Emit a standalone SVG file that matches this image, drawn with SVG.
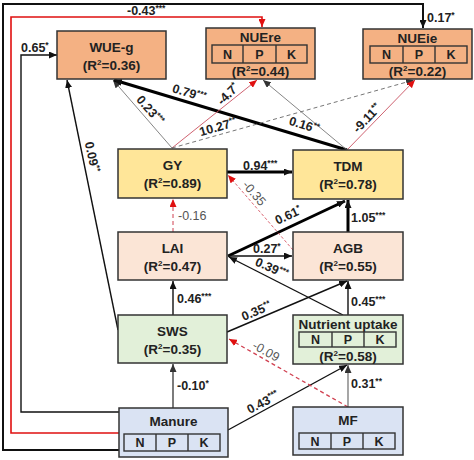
<svg xmlns="http://www.w3.org/2000/svg" width="474" height="460" viewBox="0 0 474 460">
<defs>
<style>
.n{stroke:#333;stroke-width:1.5}
.or{fill:#F4B183}.ye{fill:#FFE699}.pk{fill:#FBE5D6}.gr{fill:#E2F0D9}.bl{fill:#DAE3F3}
.cell{fill:none;stroke:#333;stroke-width:1.4}
text{font-family:"Liberation Sans",Arial,sans-serif;font-weight:bold;fill:#222}
.t{font-size:13.5px;text-anchor:middle}
.c{font-size:12.5px;text-anchor:middle}
.l{font-size:12.5px}
.g{font-weight:normal;fill:#555}
.s{font-size:8.5px}
.k{fill:none;stroke:#111;stroke-width:1.4}
.kt{fill:none;stroke:#000;stroke-width:3}
.gy{fill:none;stroke:#777;stroke-width:0.9}
.r{fill:none;stroke:#E01010;stroke-width:1.6}
.rt{fill:none;stroke:#C85060;stroke-width:0.9}
.rd{fill:none;stroke:#D04050;stroke-width:1;stroke-dasharray:4 3}
.gd{fill:none;stroke:#666;stroke-width:0.9;stroke-dasharray:4 3}
</style>
<marker id="ak" markerUnits="userSpaceOnUse" markerWidth="8" markerHeight="7" refX="8" refY="3.5" orient="auto"><path d="M0,0 L8,3.5 L0,7 z" fill="#111"/></marker>
<marker id="ar" markerUnits="userSpaceOnUse" markerWidth="8" markerHeight="7" refX="8" refY="3.5" orient="auto"><path d="M0,0 L8,3.5 L0,7 z" fill="#E01010"/></marker>
<marker id="ag" markerUnits="userSpaceOnUse" markerWidth="8" markerHeight="7" refX="8" refY="3.5" orient="auto"><path d="M0,0 L8,3.5 L0,7 z" fill="#333"/></marker>
</defs>
<g id="connectors">
<path class="k" style="stroke-width:2" d="M119,450 H3 V4 H423 V28" marker-end="url(#ak)"/>
<path class="r" d="M119,433 H11 V17 H262 V27" marker-end="url(#ar)"/>
<path class="k" d="M119,412 H21 V55 H57" marker-end="url(#ak)"/>
<line class="kt" x1="227" y1="172" x2="292" y2="172" marker-end="url(#ak)"/>
<line class="kt" x1="348" y1="232" x2="348" y2="200" marker-end="url(#ak)"/>
<line class="kt" x1="228" y1="256" x2="345" y2="201" marker-end="url(#ak)"/>
<line class="k" x1="228" y1="256" x2="292" y2="256" marker-end="url(#ak)"/>
<line class="k" x1="343" y1="315" x2="229" y2="257" marker-end="url(#ak)"/>
<line class="k" x1="227" y1="332" x2="347" y2="281" marker-end="url(#ak)"/>
<line class="k" x1="348" y1="315" x2="348" y2="281" marker-end="url(#ak)"/>
<line class="gy" style="stroke-width:1.3" x1="348" y1="407" x2="348" y2="365" marker-end="url(#ag)"/>
<line class="k" x1="228" y1="430" x2="347" y2="365" marker-end="url(#ak)"/>
<line class="rd" style="stroke-width:1.3" x1="348" y1="407" x2="229" y2="339" marker-end="url(#ar)"/>
<line class="k" style="stroke:#444" x1="173" y1="408" x2="173" y2="364" marker-end="url(#ag)"/>
<line class="k" x1="173" y1="315" x2="173" y2="281" marker-end="url(#ak)"/>
<line class="rd" x1="173" y1="232" x2="173" y2="199" marker-end="url(#ar)"/>
<line class="rd" style="stroke-dasharray:3 2;stroke-width:0.8" x1="293" y1="250" x2="228" y2="175" marker-end="url(#ar)"/>
<line class="k" x1="118" y1="330" x2="67" y2="80" marker-end="url(#ak)"/>
<line class="gy" x1="172" y1="148" x2="113" y2="80" marker-end="url(#ag)"/>
<line class="kt" x1="347" y1="150" x2="114" y2="80" marker-end="url(#ak)"/>
<line class="gy" x1="347" y1="150" x2="263" y2="80" marker-end="url(#ag)"/>
<line class="rt" x1="172" y1="148" x2="257" y2="80" marker-end="url(#ar)"/>
<line class="gd" x1="172" y1="148" x2="414" y2="80" marker-end="url(#ag)"/>
<line class="rt" x1="347" y1="150" x2="415" y2="80" marker-end="url(#ar)"/>
</g>
<g id="labels">
<text class="l" x="127" y="15">-0.43<tspan class="s" dy="-4">***</tspan></text>
<text class="l" x="427" y="22">0.17<tspan class="s" dy="-4">*</tspan></text>
<text class="l" x="21" y="52">0.65<tspan class="s" dy="-4">*</tspan></text>
<text class="l" x="243" y="170">0.94<tspan class="s" dy="-4">***</tspan></text>
<text class="l" x="351" y="222">1.05<tspan class="s" dy="-4">***</tspan></text>
<text class="l" x="351" y="306">0.45<tspan class="s" dy="-4">***</tspan></text>
<text class="l" x="351" y="388">0.31<tspan class="s" dy="-4">**</tspan></text>
<text class="l" x="177" y="303">0.46<tspan class="s" dy="-4">***</tspan></text>
<text class="l" x="177" y="390">-0.10<tspan class="s" dy="-4">*</tspan></text>
<text class="l g" x="178" y="220">-0.16</text>
<text class="l" x="253" y="253">0.27<tspan class="s" dy="-4">*</tspan></text>
<text class="l" text-anchor="middle" transform="translate(290,219) rotate(-25)">0.61<tspan class="s" dy="-4">*</tspan></text>
<text class="l" text-anchor="middle" transform="translate(270,272) rotate(24)">0.39<tspan class="s" dy="-4">***</tspan></text>
<text class="l g" text-anchor="middle" transform="translate(251,196) rotate(49)">-0.35</text>
<text class="l" text-anchor="middle" transform="translate(258,315) rotate(-23)">0.35<tspan class="s" dy="-4">**</tspan></text>
<text class="l g" text-anchor="middle" transform="translate(264,355) rotate(29)">-0.09</text>
<text class="l" text-anchor="middle" transform="translate(265,406) rotate(-28)">0.43<tspan class="s" dy="-4">***</tspan></text>
<text class="l" text-anchor="middle" transform="translate(88,158) rotate(78)">0.09<tspan class="s" dy="-4">**</tspan></text>
<text class="l" text-anchor="middle" transform="translate(147,113) rotate(49)">0.23<tspan class="s" dy="-4">***</tspan></text>
<text class="l" text-anchor="middle" transform="translate(188,97) rotate(17)">0.79<tspan class="s" dy="-4">***</tspan></text>
<text class="l" text-anchor="middle" transform="translate(303,129) rotate(17)">0.16<tspan class="s" dy="-4">**</tspan></text>
<text class="l" text-anchor="middle" transform="translate(231,97) rotate(-45)">-4.7<tspan class="s" dy="-4">*</tspan></text>
<text class="l" text-anchor="middle" transform="translate(219,131) rotate(-16)">10.27<tspan class="s" dy="-4">**</tspan></text>
<text class="l" text-anchor="middle" transform="translate(370,121) rotate(-46)">-9.11<tspan class="s" dy="-4">**</tspan></text>
</g>
<g id="WUE-g">
<rect class="n or" x="57" y="31" width="109" height="48"/>
<text class="t" x="111.5" y="52">WUE-g</text>
<text class="t" x="111.5" y="70">(R<tspan font-size="8" dy="-5">2</tspan><tspan dy="5">=0.36)</tspan></text>
</g>
<g id="NUEre">
<rect class="n or" x="206" y="28" width="109" height="51"/>
<text class="t" x="260.5" y="42">NUEre</text>
<rect class="cell" x="212" y="45" width="95" height="18"/>
<path class="cell" d="M243,45 V63 M276,45 V63"/>
<text class="c" x="227.5" y="59">N</text>
<text class="c" x="259.5" y="59">P</text>
<text class="c" x="291.5" y="59">K</text>
<text class="t" x="260.5" y="76">(R<tspan font-size="8" dy="-5">2</tspan><tspan dy="5">=0.44)</tspan></text>
</g>
<g id="NUEie">
<rect class="n or" x="363" y="29" width="109" height="50"/>
<text class="t" x="417.5" y="43">NUEie</text>
<rect class="cell" x="370" y="46" width="97" height="17"/>
<path class="cell" d="M403,46 V63 M435,46 V63"/>
<text class="c" x="386.5" y="59">N</text>
<text class="c" x="419" y="59">P</text>
<text class="c" x="451" y="59">K</text>
<text class="t" x="417.5" y="76">(R<tspan font-size="8" dy="-5">2</tspan><tspan dy="5">=0.22)</tspan></text>
</g>
<g id="GY">
<rect class="n ye" x="118" y="149" width="109" height="49"/>
<text class="t" x="172.5" y="170">GY</text>
<text class="t" x="172.5" y="188">(R<tspan font-size="8" dy="-5">2</tspan><tspan dy="5">=0.89)</tspan></text>
</g>
<g id="TDM">
<rect class="n ye" x="293" y="150" width="110" height="49"/>
<text class="t" x="348" y="171">TDM</text>
<text class="t" x="348" y="189">(R<tspan font-size="8" dy="-5">2</tspan><tspan dy="5">=0.78)</tspan></text>
</g>
<g id="LAI">
<rect class="n pk" x="118" y="232" width="109" height="48"/>
<text class="t" x="172.5" y="253">LAI</text>
<text class="t" x="172.5" y="271">(R<tspan font-size="8" dy="-5">2</tspan><tspan dy="5">=0.47)</tspan></text>
</g>
<g id="AGB">
<rect class="n pk" x="293" y="232" width="110" height="48"/>
<text class="t" x="348" y="253">AGB</text>
<text class="t" x="348" y="271">(R<tspan font-size="8" dy="-5">2</tspan><tspan dy="5">=0.55)</tspan></text>
</g>
<g id="SWS">
<rect class="n gr" x="118" y="315" width="109" height="48"/>
<text class="t" x="172.5" y="336">SWS</text>
<text class="t" x="172.5" y="354">(R<tspan font-size="8" dy="-5">2</tspan><tspan dy="5">=0.35)</tspan></text>
</g>
<g id="Nutrient-uptake">
<rect class="n gr" x="293" y="315" width="110" height="49"/>
<text class="t" x="348" y="329">Nutrient uptake</text>
<rect class="cell" x="299" y="332" width="97" height="15"/>
<path class="cell" d="M332,332 V347 M364,332 V347"/>
<text class="c" x="315.5" y="344">N</text>
<text class="c" x="348" y="344">P</text>
<text class="c" x="380" y="344">K</text>
<text class="t" x="348" y="361">(R<tspan font-size="8" dy="-5">2</tspan><tspan dy="5">=0.58)</tspan></text>
</g>
<g id="Manure">
<rect class="n bl" x="119" y="408" width="109" height="49"/>
<text class="t" x="173.5" y="426">Manure</text>
<rect class="cell" x="124" y="434" width="96" height="17"/>
<path class="cell" d="M156,434 V451 M188,434 V451"/>
<text class="c" x="140" y="447">N</text>
<text class="c" x="172" y="447">P</text>
<text class="c" x="204" y="447">K</text>
</g>
<g id="MF">
<rect class="n bl" x="293" y="407" width="110" height="48"/>
<text class="t" x="348" y="425">MF</text>
<rect class="cell" x="299" y="433" width="96" height="16"/>
<path class="cell" d="M331,433 V449 M363,433 V449"/>
<text class="c" x="315" y="446">N</text>
<text class="c" x="347" y="446">P</text>
<text class="c" x="379" y="446">K</text>
</g>
</svg>
